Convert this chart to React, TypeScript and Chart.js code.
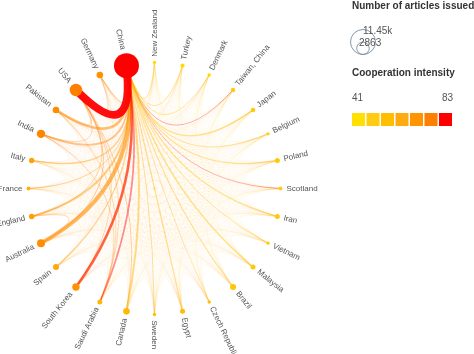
import React, { useEffect, useRef } from 'react';
import { Chart, registerables } from 'chart.js';

Chart.register(...registerables);

// ---------- data ----------
const countries = [
  'New Zealand', 'Turkey', 'Denmark', 'Taiwan, China', 'Japan', 'Belgium', 'Poland',
  'Scotland', 'Iran', 'Vietnam', 'Malaysia', 'Brazil', 'Czech Republic', 'Egypt',
  'Sweden', 'Canada', 'Saudi Arabia', 'South Korea', 'Spain', 'Australia', 'England',
  'France', 'Italy', 'India', 'Pakistan', 'USA', 'Germany', 'China',
];

// number of articles issued
const articles = [
  212, 330, 212, 355, 390, 212, 458,
  293, 458, 212, 458, 660, 212, 458,
  212, 800, 458, 1000, 660, 1170, 534,
  293, 534, 1290, 800, 2863, 800, 11450,
];

// cooperation intensity
const intensity = [
  42, 43, 44, 49, 49, 47, 50,
  48, 50, 48, 50, 52, 54, 56,
  55, 57, 58, 70, 63, 71, 66,
  60, 65, 74, 72, 76, 70, 83,
];

const intensityMin = 41;
const intensityMax = 83;
const legendColors = ['#FFE000', '#FFCC11', '#FFBF00', '#FFAA11', '#FF9500', '#FF7F00', '#FF0000'];
const sizeLegendValues = [11450, 2863];
const sizeLegendLabels = ['11.45k', '2863'];

// co-operation links: [source, target, co-authored papers]
const links: [string, string, number][] = [
  ['Germany', 'USA', 90],
  ['USA', 'Pakistan', 110],
  ['USA', 'Australia', 150],
  ['USA', 'England', 120],
  ['USA', 'South Korea', 110],
  ['USA', 'Canada', 140],
  ['USA', 'India', 100],
  ['USA', 'Saudi Arabia', 90],
  ['Australia', 'England', 90],
  ['Pakistan', 'Saudi Arabia', 100],
  ['India', 'Saudi Arabia', 80],
  ['New Zealand', 'China', 150],
  ['Turkey', 'China', 150],
  ['Denmark', 'China', 150],
  ['China', 'Taiwan, China', 110],
  ['Japan', 'China', 220],
  ['Belgium', 'China', 150],
  ['Poland', 'China', 180],
  ['China', 'Scotland', 90],
  ['Iran', 'China', 220],
  ['Vietnam', 'China', 150],
  ['Malaysia', 'China', 250],
  ['Brazil', 'China', 180],
  ['Czech Republic', 'China', 120],
  ['Egypt', 'China', 200],
  ['Sweden', 'China', 150],
  ['Canada', 'China', 300],
  ['Spain', 'China', 200],
  ['France', 'China', 150],
  ['Italy', 'China', 200],
  ['India', 'China', 280],
  ['Germany', 'China', 200],
  ['England', 'China', 300],
  ['South Korea', 'China', 330],
  ['Pakistan', 'China', 420],
  ['Australia', 'China', 600],
  ['China', 'Saudi Arabia', 260],
  ['China', 'South Korea', 400],
  ['China', 'USA', 1200],
];

// ---------- helpers ----------
const hexToRgb = (h: string) => [
  parseInt(h.slice(1, 3), 16),
  parseInt(h.slice(3, 5), 16),
  parseInt(h.slice(5, 7), 16),
];
const stops = legendColors.map(hexToRgb);

function colorFor(v: number, alpha = 1) {
  const t = Math.max(0, Math.min(1, (v - intensityMin) / (intensityMax - intensityMin))) * (stops.length - 1);
  const i = Math.min(stops.length - 2, Math.floor(t));
  const f = t - i;
  const c = stops[i].map((a, k) => Math.round(a + (stops[i + 1][k] - a) * f));
  return `rgba(${c[0]},${c[1]},${c[2]},${alpha})`;
}

const maxArticles = Math.max(...articles);
const radiusFor = (a: number) => 12.5 * Math.sqrt(a / maxArticles);

const n = countries.length;
const angles = countries.map((_, i) => -Math.PI / 2 + (i * 2 * Math.PI) / n);

const nodePoints = countries.map((_, i) => ({
  x: Math.cos(angles[i]),
  y: -Math.sin(angles[i]),
  r: radiusFor(articles[i]),
}));

const idx = (name: string) => countries.indexOf(name);

const linksPlugin = {
  id: 'links',
  beforeDatasetsDraw(chart: any) {
    const ctx = chart.ctx as CanvasRenderingContext2D;
    const xs = chart.scales.x;
    const ys = chart.scales.y;
    const cx = xs.getPixelForValue(0);
    const cy = ys.getPixelForValue(0);
    const R = xs.getPixelForValue(1) - cx;
    const pos = nodePoints.map((p) => [xs.getPixelForValue(p.x), ys.getPixelForValue(p.y)]);

    const drawCurve = (a: number, b: number, color: string, width: number) => {
      const [x1, y1] = pos[a];
      const [x2, y2] = pos[b];
      const mx = (x1 + x2) / 2;
      const my = (y1 + y2) / 2;
      const chord = Math.hypot(x2 - x1, y2 - y1);
      const k = 0.9 * Math.min(1, 0.5 + chord / (2 * R));
      const qx = mx + (cx - mx) * k;
      const qy = my + (cy - my) * k;
      ctx.beginPath();
      ctx.moveTo(x1, y1);
      ctx.quadraticCurveTo(qx, qy, x2, y2);
      ctx.strokeStyle = color;
      ctx.lineWidth = width;
      ctx.stroke();
    };

    ctx.save();
    // faint background mesh of all co-operating pairs
    for (let i = 0; i < n; i++) {
      for (let j = i + 1; j < n; j++) {
        const v = Math.max(intensity[i], intensity[j]);
        drawCurve(i, j, colorFor(v, 0.075), 0.65);
      }
    }
    // visible links
    links.forEach(([s, t, val]) => {
      const a = idx(s);
      const b = idx(t);
      const w = Math.max(0.8, val / 150);
      const alpha = Math.min(0.95, 0.28 + (0.67 * val) / 1200);
      drawCurve(a, b, colorFor(intensity[a], alpha), w);
    });
    ctx.restore();
  },
};

const labelsPlugin = {
  id: 'nodeLabels',
  afterDatasetsDraw(chart: any) {
    const ctx = chart.ctx as CanvasRenderingContext2D;
    const xs = chart.scales.x;
    const ys = chart.scales.y;
    ctx.save();
    ctx.font = '8px "Liberation Sans", Arial, sans-serif';
    ctx.fillStyle = '#555';
    ctx.textBaseline = 'middle';
    countries.forEach((name, i) => {
      const p = nodePoints[i];
      const px = xs.getPixelForValue(p.x);
      const py = ys.getPixelForValue(p.y);
      const th = angles[i];
      const d = p.r + 4;
      const lx = px + Math.cos(th) * d;
      const ly = py + Math.sin(th) * d;
      ctx.save();
      ctx.translate(lx, ly);
      if (Math.cos(th) >= -1e-9) {
        ctx.rotate(th);
        ctx.textAlign = 'left';
      } else {
        ctx.rotate(th + Math.PI);
        ctx.textAlign = 'right';
      }
      ctx.fillText(name, 0, 0);
      ctx.restore();
    });
    ctx.restore();
  },
};

const legendPlugin = {
  id: 'sideLegend',
  afterDraw(chart: any) {
    const ctx = chart.ctx as CanvasRenderingContext2D;
    const left = 352;
    ctx.save();
    ctx.textBaseline = 'middle';
    ctx.textAlign = 'left';
    // size legend
    ctx.font = 'bold 10px "Liberation Sans", Arial, sans-serif';
    ctx.fillStyle = '#333';
    ctx.fillText('Number of articles issued', left, 6);
    const baseY = 54.5;
    const cxL = 363;
    sizeLegendValues.forEach((v) => {
      const r = radiusFor(v);
      ctx.beginPath();
      ctx.arc(cxL, baseY - r, r, 0, Math.PI * 2);
      ctx.strokeStyle = 'rgba(120,140,165,0.9)';
      ctx.lineWidth = 1;
      ctx.stroke();
    });
    ctx.font = '10px "Liberation Sans", Arial, sans-serif';
    ctx.fillStyle = '#555';
    ctx.fillText(sizeLegendLabels[0], 363, 31);
    ctx.fillText(sizeLegendLabels[1], 359, 43);

    // colour legend
    ctx.font = 'bold 10px "Liberation Sans", Arial, sans-serif';
    ctx.fillStyle = '#333';
    ctx.fillText('Cooperation intensity', left, 73);
    ctx.font = '10px "Liberation Sans", Arial, sans-serif';
    ctx.fillStyle = '#555';
    ctx.fillText(String(intensityMin), left, 98);
    ctx.textAlign = 'right';
    ctx.fillText(String(intensityMax), 453, 98);
    const bw = 13;
    const gap = 1.5;
    legendColors.forEach((c, i) => {
      ctx.fillStyle = c;
      ctx.fillRect(left + i * (bw + gap), 113, bw, 13);
    });
    ctx.restore();
  },
};

export default function App() {
  const canvasRef = useRef<HTMLCanvasElement | null>(null);

  useEffect(() => {
    if (!canvasRef.current) return;
    const chart = new Chart(canvasRef.current, {
      type: 'bubble',
      data: {
        datasets: [
          {
            data: nodePoints,
            backgroundColor: intensity.map((v) => colorFor(v)),
            borderWidth: 0,
            clip: false as any,
          },
        ],
      },
      options: {
        responsive: true,
        maintainAspectRatio: false,
        animation: false,
        events: [],
        layout: { padding: { left: 28.5, right: 193.5, top: 62.5, bottom: 39.5 } },
        scales: {
          x: { type: 'linear', min: -1, max: 1, display: false },
          y: { type: 'linear', min: -1, max: 1, display: false },
        },
        plugins: {
          legend: { display: false },
          tooltip: { enabled: false },
        },
      },
      plugins: [linksPlugin, labelsPlugin, legendPlugin],
    });
    return () => chart.destroy();
  }, []);

  return (
    <div style={{ position: 'fixed', left: 0, top: 0, width: 474, height: 354, background: '#fff' }}>
      <canvas ref={canvasRef} />
    </div>
  );
}
